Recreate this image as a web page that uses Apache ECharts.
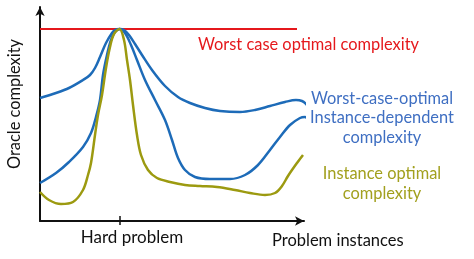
<!DOCTYPE html>
<html>
<head>
<meta charset="utf-8">
<script src="https://cdn.jsdelivr.net/npm/echarts@6/dist/echarts.min.js"></script>
<style>
html,body{margin:0;padding:0;background:#fff;}
#chart{width:474px;height:259px;}
</style>
</head>
<body>
<div id="chart"></div>
<script>
// Data in arbitrary chart units (x: problem instances, y: oracle complexity)
const hardProblemX = 80;
const worstCaseLine = [[0, 192], [257, 192]];
const worstCaseInstanceDependent = [
  [0,123],[16,128],[29,133],[43,141],[50,146],[55,153],[60,164],[66,178],[72,188],[75,191],[79.5,192],
  [84,191],[89,186],[95,177],[102,166],[112,151],[125,135],[138,124],[150,118],[165,113],[180,110],
  [200,109],[215,111],[230,115],[245,119],[256,121],[262,120],[266,117],[269,112]
];
const worstCaseInstanceDependentLow = [
  [0,38],[16,48],[29,59],[43,74],[51,88],[56,104],[60,121],[63,146],[67,166],[71,181],[75,189],[79.5,192],
  [85,188],[91,176],[97,161],[105,141],[115,121],[125,101],[132,81],[138,63],[145,51],[155,44],
  [170,42],[190,42],[205,46],[218,56],[230,71],[240,84],[250,96],[260,103],[265,104],[269,99]
];
const instanceOptimal = [
  [0,29],[9,21],[21,17],[33,19],[43,31],[48,46],[51,58],[55,86],[58,106],[62,126],[66,153],[70,174],[74,187],[79.5,192],
  [84,181],[87,161],[90,141],[93,116],[97,86],[101,66],[108,51],[117,43],[130,39],[145,36],[160,35],
  [177,34],[195,31],[210,28],[225,26],[235,28],[242,35],[248,45],[257,58],[263,66]
];
const xTickLabels = ['Hard problem'];

const RED = '#e5181c';
const BLUE = '#1d6bb8';
const BLUE_TEXT = '#3f6fc2';
const OLIVE = '#9c9a10';
const OLIVE_TEXT = '#a2a01e';
const FONT = 'Lato';
const FS = 16.4;

const chart = echarts.init(document.getElementById('chart'));
function line(data, color, width) {
  return {
    type: 'line', data: data, smooth: 0.35, symbol: 'none', clip: false,
    lineStyle: {color: color, width: width}, silent: true, z: 3
  };
}
chart.setOption({
  animation: false,
  grid: {left: 40, right: 170, top: 7, bottom: 38},
  xAxis: [{
    type: 'value', min: 0, max: 264, position: 'bottom',
    axisLine: {show: true, symbol: ['none', 'arrow'], symbolSize: [7, 9], lineStyle: {color: '#111', width: 2}},
    axisTick: {show: true, customValues: [hardProblemX], length: 4, lineStyle: {color: '#111', width: 1.5}},
    axisLabel: {show: true, customValues: [hardProblemX], formatter: () => xTickLabels[0], margin: 8,
      padding: [0, 0, 0, 24], color: '#111', fontFamily: FONT, fontSize: 17},
    splitLine: {show: false},
    name: 'Problem instances', nameLocation: 'end', nameGap: -32,
    nameTextStyle: {color: '#111', fontFamily: FONT, fontSize: 16.5, align: 'left', verticalAlign: 'top', padding: [11, 0, 0, 0]}
  }, {
    type: 'value', min: 0, max: 264, position: 'bottom',
    axisLine: {show: false},
    axisTick: {show: true, inside: true, customValues: [hardProblemX], length: 5, lineStyle: {color: '#111', width: 1.5}},
    axisLabel: {show: false}, splitLine: {show: false}
  }],
  yAxis: {
    type: 'value', min: 0, max: 214,
    axisLine: {show: true, symbol: ['none', 'arrow'], symbolSize: [7, 9], lineStyle: {color: '#111', width: 2}},
    axisTick: {show: false}, axisLabel: {show: false}, splitLine: {show: false}
  },
  graphic: [
    {type: 'text', x: 15, y: 104, rotation: Math.PI / 2,
      style: {text: 'Oracle complexity', fill: '#111', font: FS + 'px ' + FONT, align: 'center', verticalAlign: 'middle'}},
    {type: 'text', x: 308.5, y: 45,
      style: {text: 'Worst case optimal complexity', fill: RED, font: FS + 'px ' + FONT, align: 'center', verticalAlign: 'middle'}},
    {type: 'text', x: 382, y: 118,
      style: {text: 'Worst-case-optimal\nInstance-dependent\ncomplexity', fill: BLUE_TEXT, font: FS + 'px ' + FONT,
        lineHeight: 19.5, align: 'center', verticalAlign: 'middle'}},
    {type: 'text', x: 382, y: 183.5,
      style: {text: 'Instance optimal\ncomplexity', fill: OLIVE_TEXT, font: FS + 'px ' + FONT,
        lineHeight: 19.5, align: 'center', verticalAlign: 'middle'}}
  ],
  series: [
    line(worstCaseLine, RED, 2),
    line(worstCaseInstanceDependent, BLUE, 2.5),
    line(worstCaseInstanceDependentLow, BLUE, 2.5),
    line(instanceOptimal, OLIVE, 2.5)
  ]
});
</script>
</body>
</html>
